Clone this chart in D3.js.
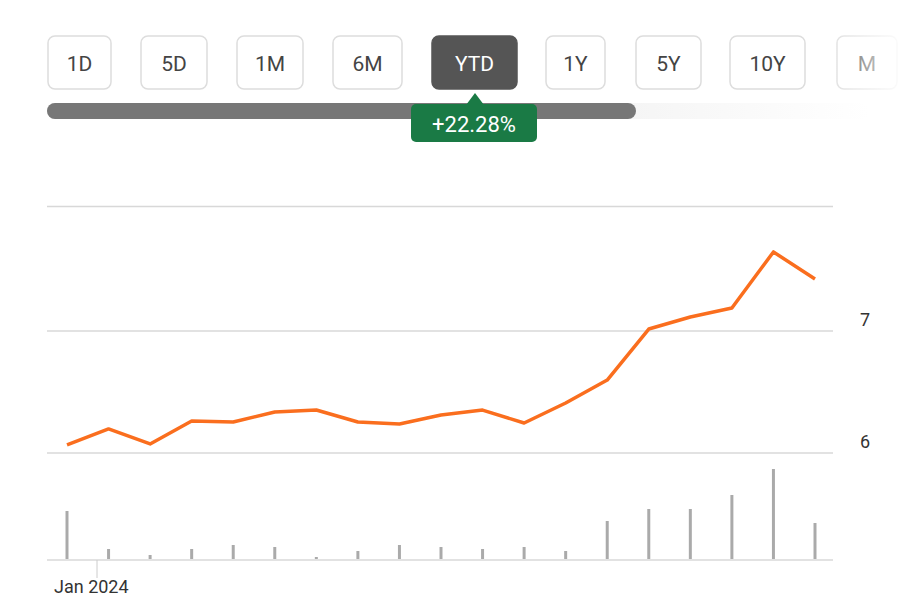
<!DOCTYPE html>
<html><head><meta charset="utf-8">
<script src="https://cdn.jsdelivr.net/npm/d3@7"></script>
<style>body{margin:0;background:#fff;font-family:"Helvetica Neue",Roboto,"Liberation Sans",Arial,sans-serif}</style>
</head><body><svg width="908" height="607"></svg>
<script>
// ranges
const ranges = ["1D","5D","1M","6M","YTD","1Y","5Y","10Y","M"];
const rangeX = [48,141,237,333,432,546,636,730,837];
const rangeW = [63,66,66,69,85,59,65,75,60];
const activeRange = "YTD";
const change = "+22.28%";

// weekly closes + volume
const prices = [6.066,6.197,6.074,6.262,6.254,6.336,6.352,6.254,6.238,6.311,6.352,6.246,6.41,6.598,7.016,7.115,7.189,7.648,7.426];
const volumes = [48,10,4,10,14,12,2,8,14,12,10,12,8,38,50,50,64,90,36];
const yTicks = [6,7];
const gridVals = [6,7,8.02];

const svg = d3.select("svg");

// range buttons
const defs = svg.append("defs");
const fade = defs.append("linearGradient").attr("id","fade");
fade.append("stop").attr("offset","0").attr("stop-color","#fff").attr("stop-opacity",0);
fade.append("stop").attr("offset","1").attr("stop-color","#fff").attr("stop-opacity",1);
const btn = svg.selectAll("g.btn").data(ranges).enter().append("g")
  .attr("transform",(d,i)=>`translate(${rangeX[i]},36)`);
btn.append("rect").attr("width",(d,i)=>rangeW[i]).attr("height",53).attr("rx",7)
  .attr("fill",d=>d===activeRange?"#555":"#fff")
  .attr("stroke",d=>d===activeRange?"#555":"#ddd").attr("stroke-width",1.5);
btn.append("text").attr("x",(d,i)=>rangeW[i]/2).attr("y",35).attr("text-anchor","middle")
  .attr("font-size",21).attr("fill",d=>d===activeRange?"#fff":"#444").text(d=>d);
svg.append("rect").attr("x",820).attr("y",30).attr("width",90).attr("height",65).attr("fill","url(#fade)");

// progress bar
const pg = defs.append("linearGradient").attr("id","pg");
pg.append("stop").attr("offset","0").attr("stop-color","#ddd");
pg.append("stop").attr("offset","1").attr("stop-color","#fff");
svg.append("rect").attr("x",47).attr("y",103).attr("width",823).attr("height",16).attr("rx",8).attr("fill","url(#pg)");
svg.append("rect").attr("x",47).attr("y",103).attr("width",589).attr("height",16).attr("rx",8).attr("fill","#777");

// change badge
svg.append("path").attr("d","M466,105 L475,93 L484,105 Z").attr("fill","#1a7a45");
svg.append("rect").attr("x",411).attr("y",104).attr("width",126).attr("height",38).attr("rx",5).attr("fill","#1a7a45");
svg.append("text").attr("x",474).attr("y",132).attr("text-anchor","middle").attr("font-size",22)
  .attr("fill","#fff").text(change);

// scales
const x = d3.scaleLinear().domain([0,prices.length-1]).range([67,815]);
const y = d3.scaleLinear().domain([6,7]).range([453,331]);
const v = d3.scaleLinear().domain([0,90]).range([559,469]);

svg.selectAll("line.grid").data(gridVals).enter().append("line")
  .attr("x1",47).attr("x2",833).attr("y1",d=>y(d)).attr("y2",d=>y(d))
  .attr("stroke","#d8d8d8").attr("stroke-width",1.5);
svg.selectAll("text.yl").data(yTicks).enter().append("text")
  .attr("x",860).attr("y",d=>y(d)-5).attr("font-size",18).attr("fill","#333").text(d=>d);

// volume
svg.selectAll("line.vol").data(volumes).enter().append("line")
  .attr("x1",(d,i)=>x(i)).attr("x2",(d,i)=>x(i)).attr("y1",559).attr("y2",d=>v(d))
  .attr("stroke","#aaa").attr("stroke-width",3);
svg.append("line").attr("x1",47).attr("x2",833).attr("y1",560).attr("y2",560).attr("stroke","#d8d8d8").attr("stroke-width",1.5);
svg.append("line").attr("x1",97).attr("x2",97).attr("y1",560).attr("y2",578).attr("stroke","#ccc");
svg.append("text").attr("x",54).attr("y",593).attr("font-size",18).attr("fill","#333").text("Jan 2024");

// price line
svg.append("path").datum(prices)
  .attr("d",d3.line().x((d,i)=>x(i)).y(d=>y(d)))
  .attr("fill","none").attr("stroke","#fa6e1e").attr("stroke-width",3.5).attr("stroke-linejoin","round");
</script></body></html>
